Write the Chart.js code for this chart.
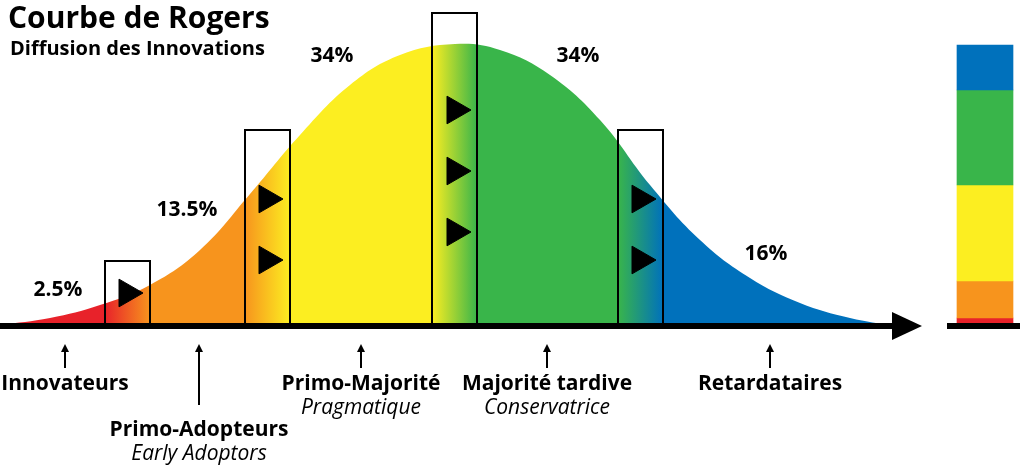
<!DOCTYPE html>
<html>
<head>
<meta charset="utf-8">
<script src="https://cdn.jsdelivr.net/npm/chart.js@4"></script>
<style>
  html, body { margin: 0; padding: 0; background: #fff; overflow: hidden; }
  canvas { display: block; }
</style>
</head>
<body>
<canvas id="myChart" width="1020" height="467"></canvas>
<script>
// courbe (hauteur au-dessus de l'axe, en px)
const courbeX = [0, 50, 100, 150, 200, 250, 300, 350, 400, 455, 500, 550, 600, 650, 700, 750, 800, 850, 895];
const courbeY = [1, 8, 21, 41, 76, 132, 191, 241, 271, 282, 276, 251, 206, 141, 86, 48, 23, 8, 0];

// zones de transition (encadrés)
const boiteX1 = [105, 245, 432, 618];
const boiteX2 = [150, 290, 477, 663];
const boiteH = [65, 196, 313, 196];

// flèches dans les encadrés
const flecheX = [127, 267, 267, 455, 455, 455, 640, 640];
const flecheY = [33, 127, 66, 216, 155, 94, 127, 66];

// pourcentages
const pctTexte = ['2.5%', '13.5%', '34%', '34%', '16%'];
const pctX = [58, 187, 332, 578, 766];
const pctY = [38, 118, 272, 272, 74];

// catégories
const categories = ['Innovateurs', 'Primo-Adopteurs', 'Primo-Majorité', 'Majorité tardive', 'Retardataires'];
const sousTitres = ['', 'Early Adoptors', 'Pragmatique', 'Conservatrice', ''];
const catX = [65, 199, 361, 547, 770];

// barre cumulée à droite
const pileBas = [1, 8, 45, 141, 236];
const pileHaut = [8, 45, 141, 236, 281];
const pileCouleurs = ['#e8222a', '#f7941d', '#fcee21', '#39b54a', '#0071bc'];

const ctx = document.getElementById('myChart');

function degrade(chart) {
  const { ctx, chartArea, scales: { x } } = chart;
  if (!chartArea || !x) return '#fcee21';
  const x0 = x.getPixelForValue(0), x1 = x.getPixelForValue(900);
  if (!isFinite(x0) || !isFinite(x1)) return '#fcee21';
  const g = ctx.createLinearGradient(x0, 0, x1, 0);
  const s = v => v / 900;
  g.addColorStop(0, '#e8222a'); g.addColorStop(s(105), '#e8222a');
  g.addColorStop(s(150), '#f7941d'); g.addColorStop(s(245), '#f7941d');
  g.addColorStop(s(290), '#fcee21'); g.addColorStop(s(432), '#fcee21');
  g.addColorStop(s(477), '#39b54a'); g.addColorStop(s(618), '#39b54a');
  g.addColorStop(s(663), '#0071bc'); g.addColorStop(1, '#0071bc');
  return g;
}

const decor = {
  id: 'decor',
  afterDatasetsDraw(chart) {
    const { ctx, scales: { x, y } } = chart;
    const base = y.getPixelForValue(0);
    ctx.save();
    // encadrés
    ctx.strokeStyle = '#000'; ctx.lineWidth = 2;
    for (let i = 0; i < boiteX1.length; i++) {
      const l = x.getPixelForValue(boiteX1[i]), r = x.getPixelForValue(boiteX2[i]);
      const t = y.getPixelForValue(boiteH[i]);
      ctx.strokeRect(l, t, r - l, base - t);
    }
    // axe
    ctx.fillStyle = '#000';
    ctx.fillRect(0, base - 3, x.getPixelForValue(895), 6);
    ctx.beginPath();
    ctx.moveTo(x.getPixelForValue(892), base - 14);
    ctx.lineTo(x.getPixelForValue(922), base);
    ctx.lineTo(x.getPixelForValue(892), base + 14);
    ctx.closePath(); ctx.fill();
    ctx.fillRect(x.getPixelForValue(947), base - 3, x.getPixelForValue(1020) - x.getPixelForValue(947), 6);
    // titres
    ctx.textBaseline = 'alphabetic'; ctx.textAlign = 'left';
    ctx.font = 'bold 30px "Open Sans"';
    ctx.fillText('Courbe de Rogers', 8, 28);
    ctx.font = 'bold 20px "Open Sans"';
    ctx.fillText('Diffusion des Innovations', 10, 55);
    // pourcentages
    ctx.textAlign = 'center';
    ctx.font = 'bold 21px "Open Sans"';
    pctTexte.forEach((t, i) => ctx.fillText(t, x.getPixelForValue(pctX[i]), y.getPixelForValue(pctY[i]) + 8));
    // catégories et flèches
    categories.forEach((c, i) => {
      const cx = x.getPixelForValue(catX[i]);
      const bas = i === 1 ? 405 : 368;
      ctx.fillRect(cx - 1, 350, 2, bas - 350);
      ctx.beginPath(); ctx.moveTo(cx - 4, 352); ctx.lineTo(cx, 344); ctx.lineTo(cx + 4, 352); ctx.closePath(); ctx.fill();
      const ty = i === 1 ? 436 : 390;
      ctx.font = 'bold 21px "Open Sans"';
      ctx.fillText(c, cx, ty);
      if (sousTitres[i]) {
        ctx.font = 'italic 21px "Open Sans"';
        ctx.fillText(sousTitres[i], cx, ty + 24);
      }
    });
    ctx.restore();
  }
};

new Chart(ctx, {
  type: 'line',
  data: {
    datasets: [
      {
        type: 'bar',
        data: pileBas.map((b, i) => ({ x: 985, y: [b, pileHaut[i]] })),
        backgroundColor: pileCouleurs,
        barThickness: 56,
        borderSkipped: false,
        order: 3
      },
      {
        data: courbeX.map((v, i) => ({ x: v, y: courbeY[i] })),
        borderWidth: 0,
        pointRadius: 0,
        tension: 0.4,
        fill: 'origin',
        backgroundColor: c => degrade(c.chart),
        order: 2
      },
      {
        type: 'scatter',
        data: flecheX.map((v, i) => ({ x: v, y: flecheY[i] })),
        pointStyle: 'triangle',
        rotation: 90,
        radius: 16,
        backgroundColor: '#000',
        borderColor: '#000',
        order: 1
      }
    ]
  },
  options: {
    responsive: false,
    animation: false,
    layout: { padding: 0, autoPadding: false },
    plugins: { legend: { display: false }, tooltip: { enabled: false } },
    scales: {
      x: { type: 'linear', min: 0, max: 1020, display: false, offset: false },
      y: { min: -141, max: 326, display: false }
    }
  },
  plugins: [decor]
});
</script>
</body>
</html>
